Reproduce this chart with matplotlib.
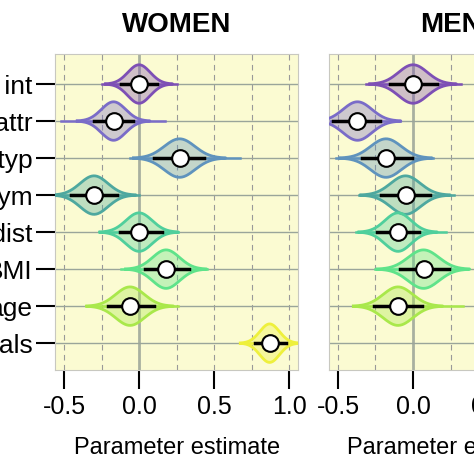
import numpy as np
import matplotlib
matplotlib.use("Agg")
import matplotlib.pyplot as plt

plt.rcParams['font.family'] = ['Liberation Sans', 'DejaVu Sans']

labels = ["face int", "face attr", "face typ", "face asym", "face dist", "BMI", "age", "residuals"]
colors = ["#7d4fb5", "#7a6cc8", "#5f93bd", "#4ea89f", "#4fcf9c", "#5fe38a", "#a9e84b", "#eef03c"]

w_med = [0.0, -0.17, 0.27, -0.30, 0.0, 0.18, -0.06, 0.87]
w_lo  = [-0.12, -0.30, 0.10, -0.45, -0.13, 0.04, -0.21, 0.77]
w_hi  = [0.12, -0.04, 0.43, -0.15, 0.15, 0.33, 0.10, 0.98]
w_min = [-0.25, -0.52, -0.06, -0.56, -0.25, -0.12, -0.35, 0.70]
w_max = [0.25, 0.17, 0.67, 0.0, 0.26, 0.45, 0.26, 1.04]

m_med = [0.0, -0.37, -0.18, -0.05, -0.10, 0.07, -0.10]
m_lo  = [-0.15, -0.53, -0.34, -0.21, -0.24, -0.09, -0.26]
m_hi  = [0.16, -0.22, -0.01, 0.11, 0.04, 0.24, 0.06]
m_min = [-0.31, -0.55, -0.51, -0.36, -0.38, -0.25, -0.39]
m_max = [0.32, -0.09, 0.13, 0.27, 0.22, 0.35, 0.33]

fig = plt.figure(figsize=(4.74, 4.74), dpi=100)
bg = "#fbfbd2"

def panel(rect, title, med, lo, hi, mn, mx, showlabels):
    ax = fig.add_axes(rect)
    ax.set_facecolor(bg)
    n = len(labels)
    ys = np.arange(n, 0, -1)
    ax.set_xlim(-0.56, 1.06)
    ax.set_ylim(1 - 0.73, n + 0.81)
    for xv in [-0.5, -0.25, 0.25, 0.5, 0.75, 1.0]:
        ax.axvline(xv, color="#999999", ls=(0, (5, 4)), lw=0.8, zorder=1)
    ax.axvline(0, color="#a8b0a0", lw=2, zorder=1)
    for y in ys:
        ax.axhline(y, color="#9aa59a", lw=1, zorder=1)
    for i in range(len(med)):
        y = ys[i]; c = colors[i]
        sd = (hi[i] - lo[i]) / 2 * 0.62
        xs = np.linspace(med[i] - 3 * sd, med[i] + 3 * sd, 100)
        d = np.exp(-0.5 * ((xs - med[i]) / sd) ** 2) * 0.52
        ax.plot([mn[i], mx[i]], [y, y], color=c, lw=1.8, zorder=2)
        ax.fill_between(xs, y - d, y + d, color=c, alpha=0.35, lw=0, zorder=3)
        ax.plot(np.r_[xs, xs[::-1]], np.r_[y + d, (y - d)[::-1]], color=c, lw=2, zorder=4)
        ax.plot([lo[i], hi[i]], [y, y], color="black", lw=2.5, zorder=5)
        ax.plot(med[i], y, "o", ms=12, mfc="white", mec="black", mew=1.5, zorder=6)
    ax.set_xticks([-0.5, 0, 0.5, 1.0])
    ax.set_xticklabels(["-0.5", "0.0", "0.5", "1.0"])
    ax.tick_params(axis="x", length=14, width=1.5, labelsize=18, pad=4)
    ax.set_yticks(ys)
    if showlabels:
        ax.set_yticklabels(labels)
        ax.tick_params(axis="y", length=14, width=1.5, labelsize=19, pad=2)
        for tk, c in zip(ax.yaxis.get_major_ticks(), colors):
            tk.tick1line.set_color(c)
    else:
        ax.set_yticklabels([])
        ax.tick_params(axis="y", length=0)
    for s in ax.spines.values():
        s.set_color("#c8c8c0")
    ax.set_title(title, fontsize=20, fontweight="bold", pad=16)
    ax.set_xlabel("Parameter estimate", fontsize=17, labelpad=13)
    return ax

panel([0.116, 0.219, 0.513, 0.667], "WOMEN", w_med, w_lo, w_hi, w_min, w_max, True)
panel([0.694, 0.219, 0.513, 0.667], "MEN", m_med, m_lo, m_hi, m_min, m_max, False)
fig.savefig("out.png", dpi=100)
